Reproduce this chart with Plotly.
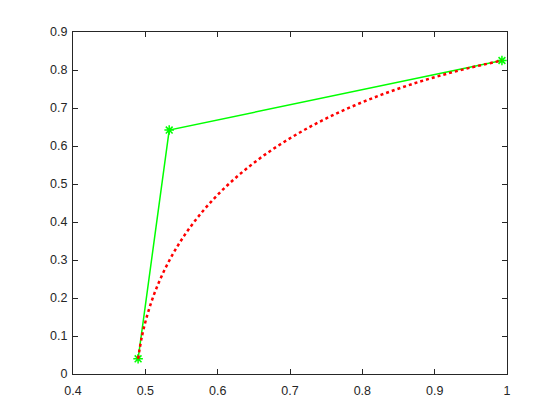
import plotly.graph_objects as go

# control polygon (green)
ctrl_x = [0.490, 0.533, 0.993]
ctrl_y = [0.040, 0.642, 0.825]

# curve
curve_x = [0.4900, 0.4953, 0.5028, 0.5123, 0.5239, 0.5376, 0.5533, 0.5712, 0.5911,
           0.6131, 0.6373, 0.6634, 0.6917, 0.7221, 0.7545, 0.7891, 0.8257, 0.8644,
           0.9052, 0.9480, 0.9930]
curve_y = [0.0400, 0.0990, 0.1559, 0.2107, 0.2634, 0.3141, 0.3627, 0.4092, 0.4536,
           0.4960, 0.5363, 0.5745, 0.6106, 0.6447, 0.6767, 0.7066, 0.7344, 0.7602,
           0.7839, 0.8055, 0.8250]

fig = go.Figure()
fig.add_trace(go.Scatter(
    x=ctrl_x, y=ctrl_y, mode="lines+markers",
    line=dict(color="#00ff00", width=1.5),
    marker=dict(symbol="asterisk-open", size=8, color="#00ff00",
                line=dict(color="#00ff00", width=1.5)),
))
fig.add_trace(go.Scatter(
    x=curve_x, y=curve_y, mode="lines",
    line=dict(color="#ff0000", width=2.5, dash="dot", shape="spline"),
))

axis_style = dict(
    showgrid=False, zeroline=False, showline=True, mirror="ticks",
    linecolor="#262626", linewidth=1, ticks="inside", ticklen=5,
    tickcolor="#262626",
    tickfont=dict(family="Liberation Sans, Arial", size=12.5, color="#262626"),
)

# page body adds an 8px offset, so margins are shifted to compensate
fig.update_layout(
    width=560, height=420,
    margin=dict(l=65, r=61, t=24, b=54),
    paper_bgcolor="white", plot_bgcolor="white",
    showlegend=False,
    xaxis=dict(range=[0.4, 1.0], dtick=0.1, tick0=0.4, ticklabelstandoff=5, **axis_style),
    yaxis=dict(range=[0, 0.9], dtick=0.1, tick0=0, ticklabelstandoff=2, **axis_style),
)

fig.write_html("out.html")
